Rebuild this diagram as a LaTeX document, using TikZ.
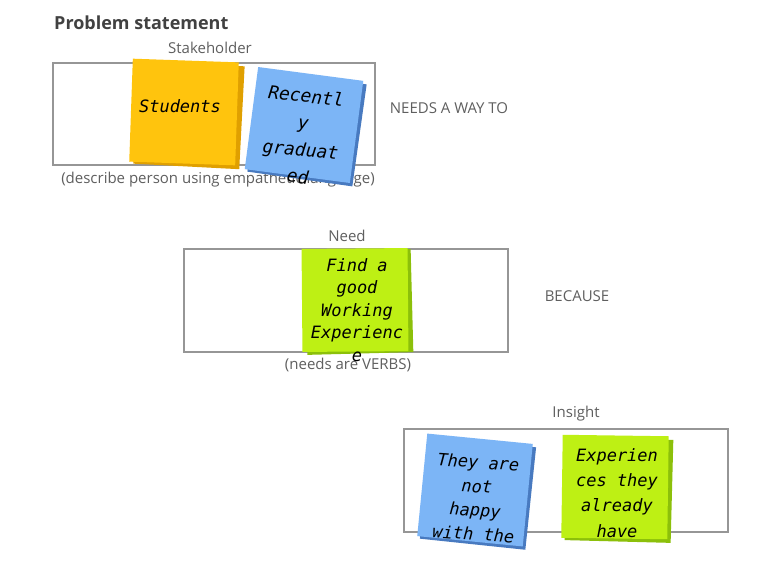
\documentclass[tikz,border=0pt]{standalone}
\usepackage{fontspec}
\setmainfont{Open Sans}
\newfontfamily\handfont{DejaVu Sans Mono}
\definecolor{framegray}{RGB}{150,150,150}
\definecolor{labelgray}{RGB}{95,95,95}
\definecolor{titlegray}{RGB}{65,65,65}
\definecolor{noteyellow}{RGB}{255,196,13}
\definecolor{noteyellowback}{RGB}{224,160,0}
\definecolor{noteblue}{RGB}{124,181,246}
\definecolor{noteblueback}{RGB}{72,122,192}
\definecolor{notegreen}{RGB}{190,240,20}
\definecolor{notegreenback}{RGB}{140,192,10}
\tikzset{
  frame/.style={draw=framegray, line width=1.2pt},
  lbl/.style={font=\fontsize{15}{17}\selectfont, text=labelgray, inner sep=0pt},
  sticky/.style={minimum width=106pt, minimum height=103pt, inner sep=0pt},
  hand/.style={font=\handfont\itshape\fontsize{17}{24}\selectfont, align=center, text=black, inner sep=0pt}
}
\begin{document}
\begin{tikzpicture}[x=1pt,y=-1pt]
  \useasboundingbox[fill=white] (0,0) rectangle (768,576);
  % title
  \node[anchor=west, font=\bfseries\fontsize{18}{20}\selectfont, text=titlegray, inner sep=0pt] (title) at (54,23) {Problem statement};
  % stakeholder
  \node[lbl] (stakeholder) at (210,48) {Stakeholder};
  \draw[frame] (53,63) rectangle (375,165);
  \node[lbl] (describe) at (218,180) {(describe person using empathetic language)};
  \node[lbl] (needsway) at (449,108) {NEEDS A WAY TO};
  % need
  \node[lbl] (need) at (347,236) {Need};
  \draw[frame] (184,249) rectangle (508,352);
  \node[lbl] (verbs) at (348,365) {(needs are VERBS)};
  \node[lbl] (because) at (577,296) {BECAUSE};
  % insight
  \node[lbl] (insight) at (576,414) {Insight};
  \draw[frame] (404,429) rectangle (728,532);
  % sticky notes
  \node[sticky, fill=noteyellowback, rotate=-3] (studentsback) at (189,115) {};
  \node[sticky, fill=noteyellow, rotate=-2] (students) at (184,112) {};
  \node[hand] (studentstxt) at (180,106) {Students};
  \node[sticky, fill=noteblueback, rotate=-8] (graduatedback) at (307,128) {};
  \node[sticky, fill=noteblue, rotate=-7.5] (graduated) at (304,125) {};
  \node[hand, rotate=-6, font=\handfont\itshape\fontsize{18}{27}\selectfont] (graduatedtxt) at (302,136) {Recentl\\y\\graduat\\ed};
  \node[sticky, fill=notegreenback, rotate=1.5] (findback) at (359,302) {};
  \node[sticky, fill=notegreen, rotate=0.5] (find) at (355,300) {};
  \node[hand, font=\handfont\itshape\fontsize{17}{22.5}\selectfont] (findtxt) at (357,310) {Find a\\good\\Working\\Experienc\\e};
  \node[sticky, fill=noteblueback, rotate=-6] (happyback) at (478,493) {};
  \node[sticky, fill=noteblue, rotate=-5.6] (happy) at (475,490) {};
  \node[hand, rotate=-4] (happytxt) at (476,498) {They are\\not\\happy\\with the};
  \node[sticky, fill=notegreenback, rotate=-1.5] (experiencesback) at (619,490) {};
  \node[sticky, fill=notegreen, rotate=-0.8] (experiences) at (615,487) {};
  \node[hand, font=\handfont\itshape\fontsize{17}{25.3}\selectfont] (experiencestxt) at (617,493) {Experien\\ces they\\already\\have};
\end{tikzpicture}
\end{document}
